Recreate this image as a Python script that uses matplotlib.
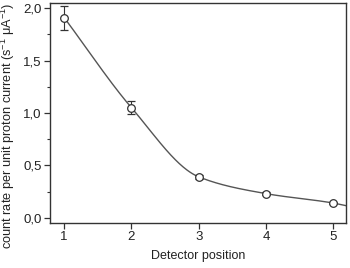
import numpy as np
import matplotlib

matplotlib.use("Agg")
import matplotlib.pyplot as plt
from matplotlib.ticker import FuncFormatter, MultipleLocator

plt.rcParams["font.family"] = ["Liberation Sans", "DejaVu Sans"]
plt.rcParams["mathtext.fontset"] = "custom"
plt.rcParams["mathtext.rm"] = "Liberation Sans"
plt.rcParams["mathtext.it"] = "Liberation Sans"

# Values
positions = [1, 2, 3, 4, 5]
rates = [1.91, 1.05, 0.39, 0.23, 0.14]
errors = [0.115, 0.06, 0.02, 0.015, 0.012]
# the fitted curve runs on past the last point to the right edge
curve_end_x = 5.19
curve_end_y = 0.115

LINE = "#555555"


def pchip(xk, yk, xs):
    # Fritsch-Carlson monotone cubic, keeps the curve from bulging
    xk = np.asarray(xk, float)
    yk = np.asarray(yk, float)
    h = np.diff(xk)
    d = np.diff(yk) / h
    n = len(xk)
    m = np.zeros(n)
    for i in range(1, n - 1):
        if d[i - 1] * d[i] > 0:
            w1 = 2 * h[i] + h[i - 1]
            w2 = h[i] + 2 * h[i - 1]
            m[i] = (w1 + w2) / (w1 / d[i - 1] + w2 / d[i])
    m[0] = d[0]
    m[-1] = d[-1]
    out = np.empty_like(xs)
    for j, x in enumerate(xs):
        i = min(max(np.searchsorted(xk, x) - 1, 0), n - 2)
        t = (x - xk[i]) / h[i]
        h00 = 2 * t**3 - 3 * t**2 + 1
        h10 = t**3 - 2 * t**2 + t
        h01 = -2 * t**3 + 3 * t**2
        h11 = t**3 - t**2
        out[j] = h00 * yk[i] + h10 * h[i] * m[i] + h01 * yk[i + 1] + h11 * h[i] * m[i + 1]
    return out


fig = plt.figure(figsize=(3.5, 2.68), dpi=100)
ax = fig.add_axes([0.143, 0.168, 0.846, 0.821])

knots_x = positions + [curve_end_x]
knots_y = rates + [curve_end_y]
xs = np.linspace(knots_x[0], knots_x[-1], 300)
ax.plot(xs, pchip(knots_x, knots_y, xs), color=LINE, lw=1.0, zorder=2)

ax.errorbar(positions, rates, yerr=errors, fmt="o", ms=5.5, mfc="white",
            mec="#333333", mew=0.9, ecolor="#333333", elinewidth=0.8,
            capsize=3, capthick=0.8, zorder=3)

ax.set_xlim(0.79, 5.19)
ax.set_ylim(-0.05, 2.05)
ax.xaxis.set_major_locator(MultipleLocator(1))
ax.yaxis.set_major_locator(MultipleLocator(0.5))
ax.yaxis.set_minor_locator(MultipleLocator(0.25))
ax.yaxis.set_major_formatter(FuncFormatter(lambda v, p: f"{v:.1f}".replace(".", ",")))

for s in ax.spines.values():
    s.set_color("#333333")
    s.set_linewidth(1.0)
ax.tick_params(which="both", direction="out", color="#333333", labelsize=9.5,
               labelcolor="#222222")
ax.tick_params(which="major", length=4, width=0.9, pad=2)
ax.tick_params(which="minor", length=2.5, width=0.8)

ax.set_xlabel("Detector position", fontsize=9, color="#222222", labelpad=5)
ax.set_ylabel("count rate per unit proton current (s$^{-1}$ μA$^{-1}$)",
              fontsize=9.2, color="#222222")
ax.yaxis.set_label_coords(-0.112, 0.44)

fig.savefig("out.png", dpi=100)
